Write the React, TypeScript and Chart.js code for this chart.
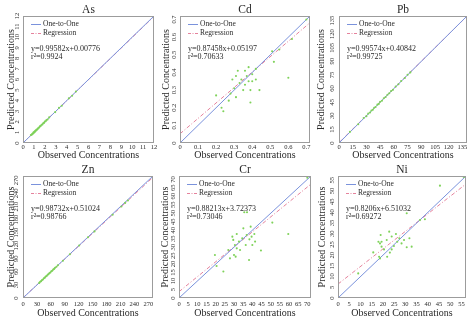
import React, { useEffect, useRef } from "react";
import { Chart, registerables } from "chart.js";

Chart.register(...registerables);

// ---------------- data ----------------
const asObserved = [0.72, 0.8, 0.85, 0.9, 0.95, 1.0, 1.03, 1.08, 1.12, 1.18, 1.22, 1.28, 1.35, 1.42, 1.48, 1.55, 1.62, 1.7, 1.78, 1.85, 1.92, 2.0, 2.08, 2.15, 2.25, 2.4, 2.95, 3.3, 3.55, 4.2, 4.5, 4.85];
const asPredicted = [0.75, 0.78, 0.88, 0.87, 0.98, 0.97, 1.06, 1.05, 1.15, 1.16, 1.25, 1.26, 1.33, 1.44, 1.46, 1.57, 1.6, 1.72, 1.75, 1.87, 1.9, 2.02, 2.05, 2.17, 2.22, 2.42, 2.92, 3.32, 3.52, 4.22, 4.47, 4.87];
const asTicks = [0, 1, 2, 3, 4, 5, 6, 7, 8, 9, 10, 11, 12];
const asLineX = [0, 12];
const asRegressionY = [0.008, 11.958];
const asEquation = "y=0.99582x+0.00776";
const asR2 = "0.9924";

const cdObserved = [0.70, 0.62, 0.51, 0.55, 0.52, 0.60, 0.44, 0.42, 0.29, 0.31, 0.34, 0.37, 0.40, 0.30, 0.33, 0.36, 0.38, 0.40, 0.28, 0.31, 0.35, 0.38, 0.36, 0.32, 0.42, 0.39, 0.39, 0.20, 0.23, 0.24, 0.27];
const cdPredicted = [0.70, 0.59, 0.52, 0.53, 0.46, 0.37, 0.30, 0.42, 0.36, 0.38, 0.36, 0.38, 0.39, 0.31, 0.34, 0.33, 0.35, 0.35, 0.28, 0.26, 0.30, 0.43, 0.41, 0.41, 0.36, 0.30, 0.23, 0.27, 0.20, 0.18, 0.24];
const cdTicks = [0, 0.1, 0.2, 0.3, 0.4, 0.5, 0.6, 0.7];
const cdLineX = [0, 0.72];
const cdRegressionY = [0.052, 0.682];
const cdEquation = "y=0.87458x+0.05197";
const cdR2 = "0.70633";

const pbObserved = [12, 21, 27, 30, 32, 34, 35.5, 37, 38.5, 40, 42, 43.5, 45, 47, 49, 51, 53, 55, 57, 59, 62, 65, 68, 72, 75, 78];
const pbPredicted = [12.3, 20.6, 27.5, 29.6, 32.4, 33.7, 35.9, 36.6, 38.9, 39.7, 42.3, 43.1, 45.4, 46.6, 49.3, 50.7, 53.2, 54.8, 57.3, 58.6, 62.2, 64.7, 68.3, 71.7, 75.3, 77.8];
const pbTicks = [0, 15, 30, 45, 60, 75, 90, 105, 120, 135];
const pbLineX = [0, 140];
const pbRegressionY = [0.408, 139.8];
const pbEquation = "y=0.99574x+0.40842";
const pbR2 = "0.99725";

const znObserved = [35, 37, 39, 41, 43, 45, 47, 49, 51, 53, 55, 57, 59, 61, 63, 65, 67, 69, 72, 75, 86, 101, 121, 140, 154, 193, 212, 220, 226];
const znPredicted = [34.6, 37.4, 38.7, 41.3, 42.6, 45.4, 46.7, 49.3, 50.6, 53.4, 54.7, 57.3, 58.6, 61.4, 62.7, 65.2, 66.8, 69.2, 71.7, 75.3, 85.6, 100.4, 120.6, 139.5, 152.8, 191.2, 210.1, 218.3, 223.6];
const znTicks = [0, 30, 60, 90, 120, 150, 180, 210, 240, 270];
const znLineX = [0, 280];
const znRegressionY = [0.51, 276.96];
const znEquation = "y=0.98732x+0.51024";
const znR2 = "0.98766";

const crObserved = [70, 35.6, 37.1, 50.9, 59.6, 44.7, 29.6, 30.5, 31.5, 32.7, 34.5, 36.9, 38.4, 39.6, 41.1, 41.5, 40, 30, 30.9, 33.3, 35.1, 39.1, 36.4, 29.1, 31.5, 38.2, 26.9, 19.6, 24.2, 20.5, 27.8];
const crPredicted = [71, 50.6, 50.6, 44.5, 37.8, 28, 34.3, 31.3, 29.3, 33.3, 35.2, 37.2, 34.6, 36.2, 37.8, 33.3, 31.3, 25.4, 24.4, 28.3, 41.1, 42.1, 31.3, 36.2, 37.8, 22.4, 28.3, 25.4, 15.6, 18.9, 23.4];
const crTicks = [0, 5, 10, 15, 20, 25, 30, 35, 40, 45, 50, 55, 60, 65, 70];
const crLineX = [0, 72];
const crRegressionY = [3.72, 67.24];
const crEquation = "y=0.88213x+3.72373";
const crR2 = "0.73046";

const niObserved = [56, 45.4, 30.6, 36.5, 38.7, 18, 18.7, 19.4, 20.5, 21.7, 22.8, 23.9, 24.9, 25.8, 26.4, 27.3, 28.3, 29.4, 30.6, 31.8, 32.8, 23.1, 21.9, 23.9, 19, 18.3, 18.7, 9, 19.4, 15.7];
const niPredicted = [56.5, 52.5, 39.6, 36.4, 36.8, 26.3, 25.5, 24, 22.7, 27.1, 31, 28.7, 24.3, 29.9, 26.3, 27.9, 25.5, 27.1, 23.7, 27.9, 24, 21.2, 19.3, 22.7, 29.4, 19.3, 18.5, 11.5, 26.3, 21.3];
const niTicks = [0, 5, 10, 15, 20, 25, 30, 35, 40, 45, 50, 55];
const niLineX = [0, 57];
const niRegressionY = [6.51, 53.28];
const niEquation = "y=0.8206x+6.51032";
const niR2 = "0.69272";

// ---------------- styles / layout ----------------
const SERIF = '"Liberation Serif", "Times New Roman", serif';
const TEXT = "#2a2a2a";
const BORDER = "#9c9c9c";
const GREEN = "#7fd25a";
const BLUE = "#7a92dc";
const PINK = "#e5829c";
const TITLE_SIZE = 11.5;
const AXIS_TITLE_SIZE = 10;

type Layout = {
  boxX: number; boxY: number; boxW: number; boxH: number;
  plotL: number; plotR: number; plotT: number; plotB: number;
  yTitleX: number; xTitleY: number; titleY: number; xTickPad: number;
};

const row1 = { boxY: 0, boxH: 160, plotT: 16, plotB: 143, xTitleY: 155, titleY: 10, xTickPad: 0 };
const row2 = { boxY: 160, boxH: 161, plotT: 176, plotB: 298, xTitleY: 313.5, titleY: 169.5, xTickPad: 2.5 };

const layouts: Layout[] = [
  { ...row1, boxX: 0, boxW: 158, plotL: 23, plotR: 154, yTitleX: 11.5 },
  { ...row1, boxX: 158, boxW: 158, plotL: 180, plotR: 310, yTitleX: 166 },
  { ...row1, boxX: 314, boxW: 160, plotL: 339, plotR: 467, yTitleX: 321.7 },
  { ...row2, boxX: 0, boxW: 158, plotL: 23, plotR: 153, yTitleX: 11.5 },
  { ...row2, boxX: 155, boxW: 161, plotL: 179, plotR: 311, yTitleX: 165.5 },
  { ...row2, boxX: 314, boxW: 160, plotL: 338, plotR: 466, yTitleX: 322 },
];

type Panel = {
  name: string; observed: number[]; predicted: number[]; ticks: number[];
  lineX: number[]; regressionY: number[]; equation: string; r2: string; layout: Layout;
};

const panels: Panel[] = [
  { name: "As", observed: asObserved, predicted: asPredicted, ticks: asTicks, lineX: asLineX, regressionY: asRegressionY, equation: asEquation, r2: asR2, layout: layouts[0] },
  { name: "Cd", observed: cdObserved, predicted: cdPredicted, ticks: cdTicks, lineX: cdLineX, regressionY: cdRegressionY, equation: cdEquation, r2: cdR2, layout: layouts[1] },
  { name: "Pb", observed: pbObserved, predicted: pbPredicted, ticks: pbTicks, lineX: pbLineX, regressionY: pbRegressionY, equation: pbEquation, r2: pbR2, layout: layouts[2] },
  { name: "Zn", observed: znObserved, predicted: znPredicted, ticks: znTicks, lineX: znLineX, regressionY: znRegressionY, equation: znEquation, r2: znR2, layout: layouts[3] },
  { name: "Cr", observed: crObserved, predicted: crPredicted, ticks: crTicks, lineX: crLineX, regressionY: crRegressionY, equation: crEquation, r2: crR2, layout: layouts[4] },
  { name: "Ni", observed: niObserved, predicted: niPredicted, ticks: niTicks, lineX: niLineX, regressionY: niRegressionY, equation: niEquation, r2: niR2, layout: layouts[5] },
];

function PanelChart({ panel }: { panel: Panel }) {
  const ref = useRef<HTMLCanvasElement | null>(null);
  const L = panel.layout;

  useEffect(() => {
    const canvas = ref.current;
    if (!canvas) return;
    const padTop = L.titleY - L.boxY - TITLE_SIZE / 2;
    const titleBottom = L.plotT - L.titleY - TITLE_SIZE / 2;
    const padBottom = L.boxY + L.boxH - L.xTitleY - AXIS_TITLE_SIZE / 2;
    const xAxisHeight = L.boxY + L.boxH - padBottom - L.plotB;
    const padLeft = L.yTitleX - AXIS_TITLE_SIZE / 2 - L.boxX;
    const yAxisWidth = L.plotL - L.boxX - padLeft;
    const padRight = L.boxX + L.boxW - L.plotR;
    const axisMax = panel.lineX[panel.lineX.length - 1];

    const points = panel.observed.map((x, i) => ({ x, y: panel.predicted[i] }));
    const oneToOne = panel.lineX.map((x) => ({ x, y: x }));
    const regression = panel.lineX.map((x, i) => ({ x, y: panel.regressionY[i] }));

    const decor = {
      id: "decor",
      afterDraw(chart: any) {
        const { ctx, chartArea: a } = chart;
        ctx.save();
        ctx.setLineDash([]);
        ctx.lineWidth = 1;
        ctx.strokeStyle = BORDER;
        ctx.strokeRect(Math.round(a.left) + 0.5, Math.round(a.top) + 0.5, Math.round(a.right - a.left) - 1, Math.round(a.bottom - a.top) - 1);
        const ds = chart.data.datasets;
        const lx = a.left + 8;
        const ly1 = a.top + 8.5;
        const ly2 = a.top + 17.5;
        ctx.strokeStyle = BLUE;
        ctx.beginPath(); ctx.moveTo(lx, ly1); ctx.lineTo(lx + 10, ly1); ctx.stroke();
        ctx.strokeStyle = PINK;
        ctx.setLineDash([3, 1.5, 1, 1.5]);
        ctx.beginPath(); ctx.moveTo(lx, ly2); ctx.lineTo(lx + 10, ly2); ctx.stroke();
        ctx.setLineDash([]);
        ctx.fillStyle = TEXT;
        ctx.textAlign = "left";
        ctx.textBaseline = "middle";
        ctx.font = `7.5px ${SERIF}`;
        ctx.fillText(ds[1].label, lx + 12, ly1);
        ctx.fillText(ds[2].label, lx + 12, ly2);
        ctx.font = `8px ${SERIF}`;
        ctx.fillText(panel.equation, a.left + 8, a.top + 32.5);
        ctx.fillText("r\u00B2=" + panel.r2, a.left + 8, a.top + 40.5);
        ctx.restore();
      },
    };

    const tickFont = { family: SERIF, size: 6.5 };
    const chart = new Chart(canvas, {
      type: "scatter",
      data: {
        datasets: [
          { label: "Data", data: points, pointRadius: 1.05, pointBackgroundColor: GREEN, pointBorderWidth: 0, backgroundColor: GREEN, borderColor: GREEN },
          { label: "One-to-One", type: "line", data: oneToOne, borderColor: BLUE, borderWidth: 1, pointRadius: 0, fill: false, tension: 0 },
          { label: "Regression", type: "line", data: regression, borderColor: PINK, borderWidth: 1, borderDash: [4, 2, 1, 2], pointRadius: 0, fill: false, tension: 0 },
        ],
      } as any,
      options: {
        animation: false,
        responsive: false,
        maintainAspectRatio: false,
        events: [],
        layout: { padding: { top: padTop, bottom: padBottom, left: padLeft, right: padRight } },
        plugins: {
          legend: { display: false },
          tooltip: { enabled: false },
          title: {
            display: true,
            text: panel.name,
            fullSize: false,
            color: TEXT,
            font: { family: SERIF, size: TITLE_SIZE, weight: "normal", lineHeight: 1 },
            padding: { top: 0, bottom: titleBottom },
          },
        },
        scales: {
          x: {
            type: "linear",
            min: 0,
            max: axisMax,
            afterBuildTicks: (s: any) => { s.ticks = panel.ticks.map((v) => ({ value: v })); },
            afterFit: (s: any) => { s.height = xAxisHeight; },
            grid: { display: false, drawTicks: false },
            border: { display: false },
            ticks: { font: tickFont, color: TEXT, padding: L.xTickPad, maxRotation: 0, autoSkip: false },
            title: { display: true, text: "Observed Concentrations", color: TEXT, font: { family: SERIF, size: AXIS_TITLE_SIZE, lineHeight: 1 }, padding: { top: 0, bottom: 0 } },
          },
          y: {
            type: "linear",
            min: 0,
            max: axisMax,
            afterBuildTicks: (s: any) => { s.ticks = panel.ticks.map((v) => ({ value: v })); },
            afterFit: (s: any) => { s.width = yAxisWidth; },
            grid: { display: false, drawTicks: false },
            border: { display: false },
            ticks: { font: tickFont, color: TEXT, padding: 2, minRotation: 90, maxRotation: 90, crossAlign: "center", autoSkip: false },
            title: { display: true, text: "Predicted Concentrations", color: TEXT, font: { family: SERIF, size: AXIS_TITLE_SIZE, lineHeight: 1 }, padding: { top: 0, bottom: 0 } },
          },
        },
      } as any,
      plugins: [decor],
    });
    return () => chart.destroy();
  }, [panel]);

  return (
    <canvas
      ref={ref}
      width={L.boxW}
      height={L.boxH}
      style={{ position: "absolute", left: L.boxX, top: L.boxY, width: L.boxW, height: L.boxH }}
    />
  );
}

export default function App() {
  return (
    <div style={{ position: "absolute", left: 0, top: 0, width: 474, height: 321, background: "#ffffff", overflow: "hidden" }}>
      {panels.map((p) => (
        <PanelChart key={p.name} panel={p} />
      ))}
    </div>
  );
}
